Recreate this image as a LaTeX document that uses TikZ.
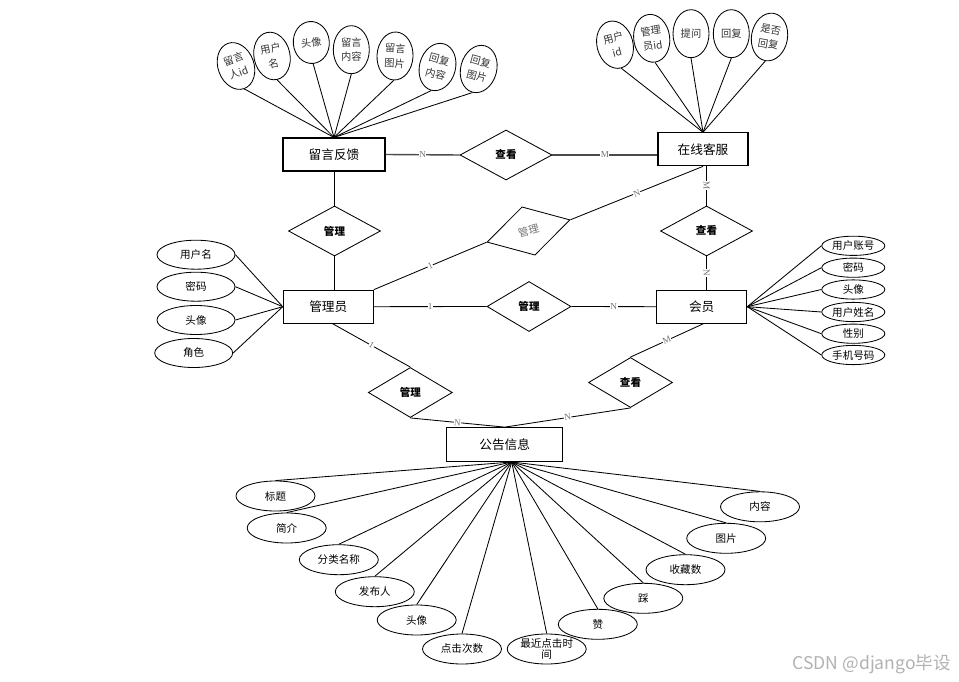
\documentclass[tikz,border=0pt]{standalone}
\usepackage{fontspec}
\setmainfont{Noto Sans CJK SC}
\newfontfamily\cardfont{Liberation Serif}
\usetikzlibrary{shapes.geometric}
\tikzset{
  entity/.style={draw, line width=0.8pt, minimum width=2.25cm, minimum height=0.825cm, inner sep=0pt, font=\fontsize{9}{10}\selectfont},
  relation/.style={draw, shape=diamond, line width=0.6pt, minimum width=2.3cm, minimum height=1.25cm, inner sep=0pt, font=\bfseries\fontsize{7.5}{8}\selectfont},
  topattr/.style={draw, shape=ellipse, line width=0.6pt, minimum width=0.9cm, minimum height=1.2cm, inner sep=0pt, align=center, font=\fontsize{7.3}{10.5}\selectfont, text=black!80},
  sideattr/.style={draw, shape=ellipse, line width=0.6pt, minimum width=1.95cm, minimum height=0.725cm, inner sep=0pt, font=\fontsize{7.5}{8}\selectfont},
  smallattr/.style={draw, shape=ellipse, line width=0.6pt, minimum width=1.575cm, minimum height=0.48cm, inner sep=0pt, font=\fontsize{7.5}{8}\selectfont},
  card/.style={fill=white, inner sep=0.3pt, text=black!55, font=\cardfont\fontsize{6.5}{7}\selectfont},
  link/.style={line width=0.6pt},
  heavylink/.style={line width=1pt, draw=black!70}
}

\begin{document}
\begin{tikzpicture}[x=0.025cm, y=-0.025cm]
    \fill[white] (0,0) rectangle (959,682);
    \useasboundingbox (0,0) rectangle (959,682);

    % entities
    \node[entity, minimum width=2.55cm] (fk) at (334,154.5) {留言反馈};
    \node[entity] (kf) at (703,149.3) {在线客服};
    \node[entity] (gly) at (328.3,306.7) {管理员};
    \node[entity] (hy) at (701.7,306.7) {会员};
    \node[entity, minimum width=2.9cm, minimum height=0.85cm] (gg) at (504.7,444.7) {公告信息};

    % relations
    \node[relation] (ck1) at (506,155) {查看};
    \node[relation] (gl1) at (334.5,231) {管理};
    \node[relation, minimum width=2.15cm, rotate=15, font=\fontsize{7.5}{8}\selectfont, text=black!55] (gl2) at (528.5,231) {管理};
    \node[relation] (ck2) at (706.5,231) {查看};
    \node[relation, minimum width=2.1cm] (gl3) at (529,306.5) {管理};
    \node[relation, minimum width=2.1cm] (gl4) at (410.3,392.5) {管理};
    \node[relation, minimum width=2.1cm] (ck3) at (630.5,382.5) {查看};

    % 留言反馈 attributes
    \node[topattr, rotate=20] (a1) at (236,66) {留言\\人id};
    \node[topattr, rotate=12] (a2) at (272,56) {用户\\名};
    \node[topattr, rotate=5, minimum height=1.05cm] (a3) at (311.3,42.5) {头像};
    \node[topattr] (a4) at (351.3,49.7) {留言\\内容};
    \node[topattr, rotate=-3] (a5) at (395,56) {留言\\图片};
    \node[topattr, rotate=-15] (a6) at (437.5,67) {回复\\内容};
    \node[topattr, rotate=-15] (a7) at (478.7,69) {回复\\图片};

    % 在线客服 attributes
    \node[topattr, rotate=15] (b1) at (615,44.7) {用户\\id};
    \node[topattr, rotate=8] (b2) at (651.7,38.3) {管理\\员id};
    \node[topattr] (b3) at (691,33.7) {提问};
    \node[topattr] (b4) at (731.3,33.7) {回复};
    \node[topattr, rotate=-10] (b5) at (769.5,37) {是否\\回复};

    % 管理员 attributes
    \node[sideattr] (c1) at (196,254.7) {用户名};
    \node[sideattr] (c2) at (196,286.7) {密码};
    \node[sideattr] (c3) at (196,320) {头像};
    \node[sideattr] (c4) at (193.7,353) {角色};

    % 会员 attributes
    \node[smallattr] (d1) at (853.3,245.8) {用户账号};
    \node[smallattr] (d2) at (853.3,267.7) {密码};
    \node[smallattr] (d3) at (853.3,289.5) {头像};
    \node[smallattr] (d4) at (853.3,312) {用户姓名};
    \node[smallattr] (d5) at (853.3,333.7) {性别};
    \node[smallattr] (d6) at (853.3,355) {手机号码};

    % 公告信息 attributes
    \node[sideattr, minimum width=1.975cm, minimum height=0.75cm] (e1) at (275.5,496) {标题};
    \node[sideattr, minimum width=1.975cm, minimum height=0.75cm] (e2) at (286.7,528) {简介};
    \node[sideattr, minimum width=1.975cm, minimum height=0.75cm] (e3) at (338.8,559.7) {分类名称};
    \node[sideattr, minimum width=1.975cm, minimum height=0.75cm] (e4) at (374.8,591.7) {发布人};
    \node[sideattr, minimum width=1.975cm, minimum height=0.75cm] (e5) at (416.7,620) {头像};
    \node[sideattr, minimum width=1.975cm, minimum height=0.75cm] (e6) at (462,649) {点击次数};
    \node[sideattr, minimum width=1.975cm, minimum height=0.75cm, align=center, inner ysep=-3pt, font=\fontsize{7.5}{8.5}\selectfont] (e7) at (546.7,649) {最近点击时\\间};
    \node[sideattr, minimum width=1.975cm, minimum height=0.75cm] (e8) at (597.8,624.3) {赞};
    \node[sideattr, minimum width=1.975cm, minimum height=0.75cm] (e9) at (643.3,598.3) {踩};
    \node[sideattr, minimum width=1.975cm, minimum height=0.75cm] (e10) at (685.5,569.7) {收藏数};
    \node[sideattr, minimum width=1.975cm, minimum height=0.75cm] (e11) at (726.2,538.3) {图片};
    \node[sideattr, minimum width=1.975cm, minimum height=0.75cm] (e12) at (760,506.8) {内容};

    \coordinate (ggfoot) at (511.7,462);

    % attribute lines
    \draw[link] (a1.south) -- (fk.north);
    \draw[link] (a2.south) -- (fk.north);
    \draw[link] (a3.south) -- (fk.north);
    \draw[link] (a4.south) -- (fk.north);
    \draw[link] (a5.south) -- (fk.north);
    \draw[link] (a6.south) -- (fk.north);
    \draw[link] (a7.south) -- (fk.north);

    \draw[link] (b1.south) -- (kf.north);
    \draw[link] (b2.south) -- (kf.north);
    \draw[link] (b3.south) -- (kf.north);
    \draw[link] (b4.south) -- (kf.north);
    \draw[link] (b5.south) -- (kf.north);

    \draw[link] (c1.east) -- (gly.west);
    \draw[link] (c2.east) -- (gly.west);
    \draw[link] (c3.east) -- (gly.west);
    \draw[link] (c4.east) -- (gly.west);

    \draw[link] (d1.west) -- (hy.east);
    \draw[link] (d2.west) -- (hy.east);
    \draw[link] (d3.west) -- (hy.east);
    \draw[link] (d4.west) -- (hy.east);
    \draw[link] (d5.west) -- (hy.east);
    \draw[link] (d6.west) -- (hy.east);

    \draw[link] (e1.north) -- (ggfoot);
    \draw[link] (e2.north) -- (ggfoot);
    \draw[link] (e3.north) -- (ggfoot);
    \draw[link] (e4.north) -- (ggfoot);
    \draw[link] (e5.north) -- (ggfoot);
    \draw[link] (e6.north) -- (ggfoot);
    \draw[link] (e7.north) -- (ggfoot);
    \draw[link] (e8.north) -- (ggfoot);
    \draw[link] (e9.north) -- (ggfoot);
    \draw[link] (e10.north) -- (ggfoot);
    \draw[link] (e11.north) -- (ggfoot);
    \draw[link] (e12.north) -- (ggfoot);

    % relation lines
    \draw[heavylink] (fk.east) -- node[card] {N} (ck1.west);
    \draw[heavylink] (ck1.east) -- node[card] {M} (ck1.east -| kf.west);
    \draw[link] (fk.south -| gl1.north) -- (gl1.north);
    \draw[link] (gl1.south) -- (gl1.south |- gly.north);
    \draw[link] (gly.north east) -- node[card, sloped] {1} (gl2.west);
    \draw[link] (gl2.east) -- node[card, sloped] {N} (kf.south);
    \draw[link] (ck2.north |- kf.south) -- node[card, sloped] {M} (ck2.north);
    \draw[link] (ck2.south) -- node[card, sloped] {N} (ck2.south |- hy.north);
    \draw[link] (gly.east) -- node[card] {1} (gl3.west);
    \draw[link] (gl3.east) -- node[card] {N} (hy.west);
    \draw[link] (gly.south -| 332.7,0) -- node[card, sloped] {1} (gl4.north);
    \draw[link] (gl4.south) -- node[card, sloped] {N} (gg.north);
    \draw[link] (ck3.south) -- node[card, sloped] {N} (gg.north);
    \draw[link] (ck3.north) -- node[card, sloped] {M} (hy.south -| 703.3,0);

    \node[text=black!30, font=\fontsize{12.5}{13}\selectfont, anchor=east] (mark) at (956,664) {CSDN @django毕设};
\end{tikzpicture}
\end{document}
